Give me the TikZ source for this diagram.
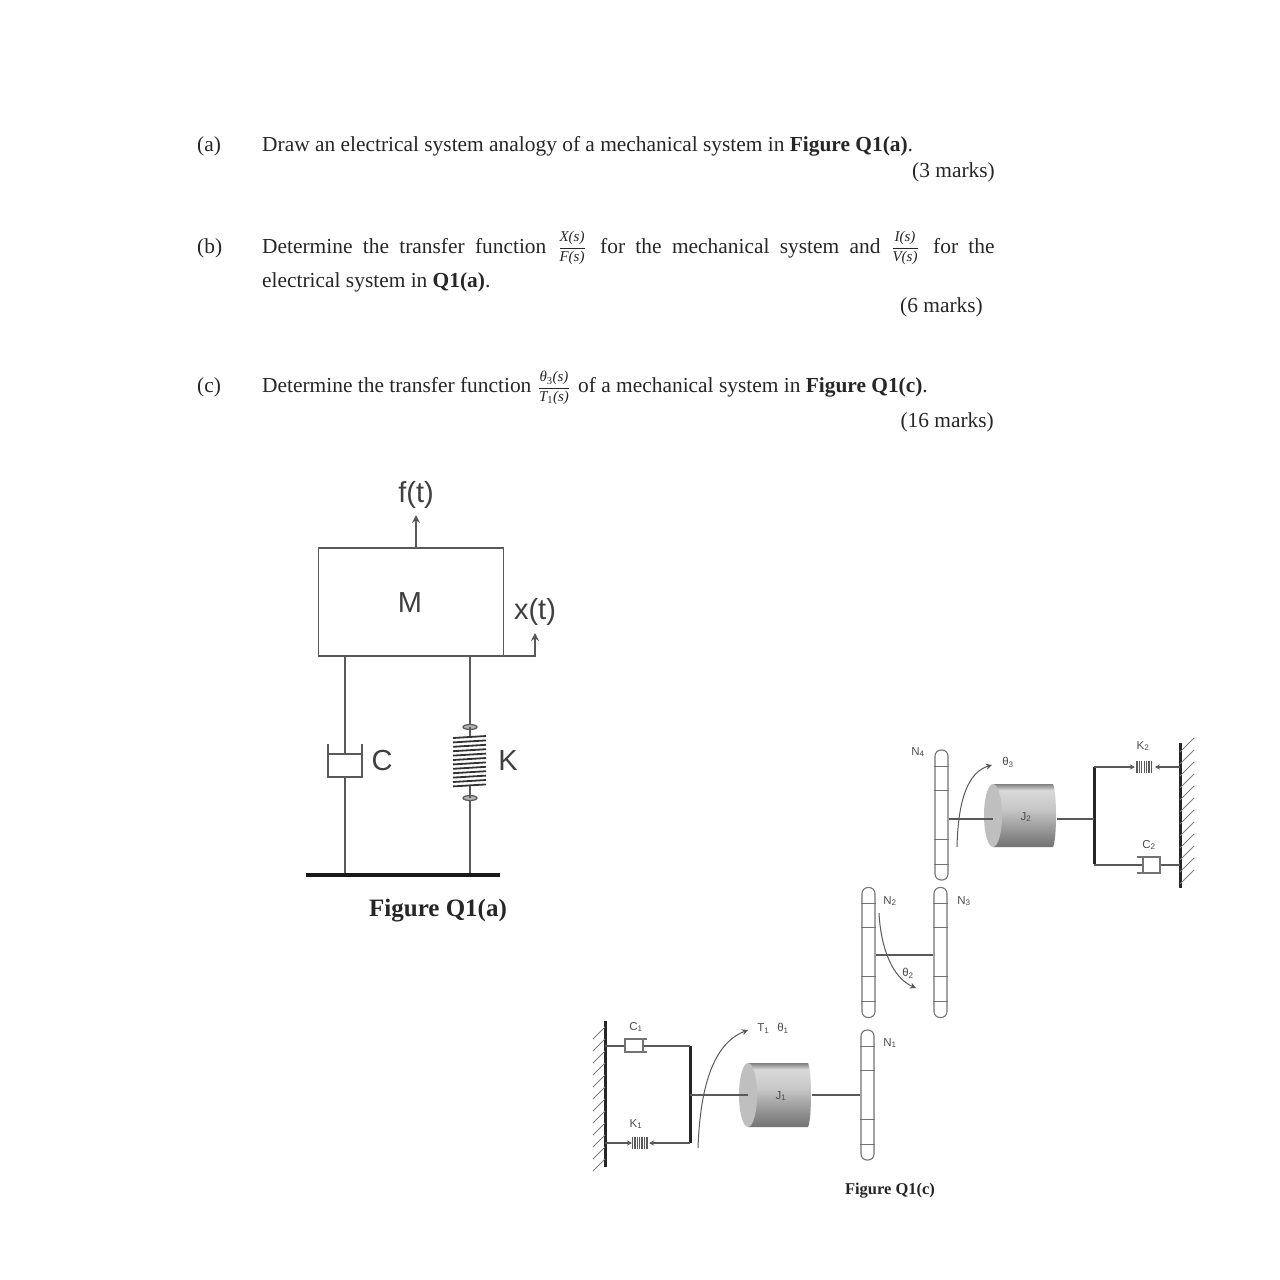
\documentclass[tikz,border=0pt]{standalone}
\usepackage{amsmath}
\usepackage{fontspec}
\usetikzlibrary{arrows.meta}
\setmainfont{Liberation Serif}
\newfontfamily\labelfont{Liberation Sans}
\pgfdeclareverticalshading{drumshade}{100bp}{color(0bp)=(black!55); color(25bp)=(black!55); color(35bp)=(black!45); color(55bp)=(black!22); color(70bp)=(black!15); color(75bp)=(black!50); color(100bp)=(black!50)}
\tikzset{
  txt/.style={inner sep=0pt,anchor=base west,font=\fontsize{21.4}{24}\selectfont,text=black!85},
  marks/.style={inner sep=0pt,anchor=base east,font=\fontsize{21.4}{24}\selectfont,text=black!85},
  fractxt/.style={inner sep=0pt,font=\fontsize{15}{17}\selectfont,text=black!85},
  biglabel/.style={inner sep=0pt,font=\labelfont\fontsize{29}{32}\selectfont,text=black!75},
  smalllabel/.style={inner sep=0pt,font=\labelfont\fontsize{11.5}{13}\selectfont,text=black!70},
  figlabel/.style={inner sep=0pt,font=\bfseries\fontsize{25}{28}\selectfont,text=black!85},
  gearbox/.style={draw=black!55,line width=1.1,rounded corners=6,minimum width=13,minimum height=130,inner sep=0pt},
  gearline/.style={draw=black!55,line width=1},
  rod/.style={draw=black!65,line width=1.2},
  arm/.style={draw=black!85,line width=3},
  wall/.style={draw=black!85,line width=3},
  hatch/.style={draw=black!50,line width=1},
  turn/.style={draw=black!65,line width=1,-{Stealth[length=6,width=6]}},
  bigtip/.style={-{Stealth[length=8,width=8]},line width=1.8},
  smalltip/.style={-{Stealth[length=5,width=5]}}
}
\newcommand{\gearwheel}[3]{
  \node[gearbox] (#1) at (#2,#3) {};
  \foreach \off in {-49,-24,25,49}
    \draw[gearline] ([yshift=\off pt]#1.west) -- ([yshift=\off pt]#1.east);
}
\newcommand{\drum}[5]{
  \shade[shading=drumshade] (#1,#3) -- (#2-4,#3) .. controls (#2,#3+8) and (#2,#4-8) .. (#2-4,#4) -- (#1,#4) -- cycle;
  \fill[black!25] (#1,#3/2+#4/2) ellipse [x radius=#5,y radius=#4/2-#3/2];
}
\newcommand{\coil}[2]{
  \foreach \k in {-8,-5.6,...,8.2}
    \draw[black!65,line width=1.3] (#1+\k,#2-6) -- (#1+\k,#2+6);
}
\begin{document}
\begin{tikzpicture}[x=1pt,y=-1pt]
  \useasboundingbox (0,0) rectangle (1280,1280);
  \fill[white] (0,0) rectangle (1280,1280);

  \node[txt] (parta) at (197,151) {(a)};
  \node[txt] (texta) at (262,151) {Draw an electrical system analogy of a mechanical system in \textbf{Figure Q1(a)}.};
  \node[marks] (marka) at (995,177) {(3 marks)};

  \node[txt] (partb) at (197,253) {(b)};
  \node[txt] (textbi) at (262,253) {Determine\hspace{5pt} the\hspace{5pt} transfer\hspace{5pt} function};
  \node[fractxt] (fracbi) at (572,248) {$\dfrac{\textit{X(s)}}{\textit{F(s)}}$};
  \node[txt] (textbii) at (600,253) {for\hspace{5pt} the\hspace{5pt} mechanical\hspace{5pt} system\hspace{5pt} and};
  \node[fractxt] (fracbii) at (905,248) {$\dfrac{\textit{I(s)}}{\textit{V(s)}}$};
  \node[txt] (textbiii) at (933,253) {for\hspace{5pt} the};
  \node[txt] (textbiv) at (262,287) {electrical system in \textbf{Q1(a)}.};
  \node[marks] (markb) at (983,312) {(6 marks)};

  \node[txt] (partc) at (197,392) {(c)};
  \node[txt] (textci) at (262,392) {Determine the transfer function};
  \node[fractxt] (fracc) at (554,388) {$\dfrac{\textit{θ}\textsubscript{3}\textit{(s)}}{\textit{T}\textsubscript{1}\textit{(s)}}$};
  \node[txt] (textcii) at (578,392) {of a mechanical system in \textbf{Figure Q1(c)}.};
  \node[marks] (markc) at (994,427) {(16 marks)};

  \node[draw=black!65,line width=1.3,minimum width=185,minimum height=108,inner sep=0pt] (mass) at (411,602) {};
  \node[biglabel] (massm) at (410,603) {M};
  \node[biglabel] (force) at (416,495) {f(t)};
  \node[biglabel] (disp) at (535,612) {x(t)};
  \node[biglabel] (dampc) at (382,761) {C};
  \node[biglabel] (springk) at (508,761) {K};
  \node[figlabel] (figa) at (438,911) {Figure Q1(a)};
  \coordinate (forcetip) at (416,515);
  \coordinate (disptip) at (535,633);
  \coordinate (dampa) at (345,754);
  \coordinate (dampb) at (345,777);
  \coordinate (grounda) at (345,875);
  \coordinate (springa) at (470,727);
  \coordinate (springb) at (470,798);
  \coordinate (groundb) at (470,875);

  \draw[rod,bigtip] (416,548) -- (forcetip);
  \draw[rod,bigtip] (503,656) -| (disptip);
  \draw[rod] (345,656) -- (dampa);
  \draw[rod] (dampb) -- (grounda);
  \draw[rod] (470,656) -- (springa);
  \draw[rod] (springb) -- (groundb);
  \draw[rod] (328,744) -- (328,777) -- (362,777) -- (362,744);
  \draw[rod] (328,754) -- (362,754);
  \draw[rod,fill=black!30] (springa) ellipse [x radius=7,y radius=2.5];
  \draw[rod,fill=black!30] (springb) ellipse [x radius=7,y radius=2.5];
  \draw[rod] (springa) -- (470,738);
  \draw[rod] (470,786) -- (springb);
  \foreach \s in {0,...,11}
    \draw[black!80,line width=1.8] (453,738+4.4*\s) -- (486,736+4.4*\s);
  \draw[black!90,line width=4] (306,875) -- (500,875);

  \gearwheel{gearone}{867.5}{1095}
  \gearwheel{geartwo}{868.5}{952.5}
  \gearwheel{gearthree}{940.5}{952.5}
  \gearwheel{gearfour}{941.5}{815}
  \node[smalllabel] (nonelabel) at (890,1043) {N\textsubscript{1}};
  \node[smalllabel] (ntwolabel) at (890,901) {N\textsubscript{2}};
  \node[smalllabel] (nthreelabel) at (964,901) {N\textsubscript{3}};
  \node[smalllabel] (nfourlabel) at (918,752) {N\textsubscript{4}};

  \draw[rod] (geartwo.east |- 0,955) -- (gearthree.west |- 0,955);
  \draw[turn] (879,913) .. controls (881,950) and (893,978) .. (916,988);
  \node[smalllabel] (thetatwo) at (908,973) {θ\textsubscript{2}};

  \draw[wall] (605,1021) -- (605,1167);
  \foreach \h in {0,...,11}
    \draw[hatch] (605,1027+12*\h) -- (593,1039+12*\h);
  \draw[arm] (690.5,1046) -- (690.5,1143);
  \draw[rod] (605,1046) -- (625,1046);
  \draw[rod] (643,1046) -- (690,1046);
  \draw[rod,fill=white,draw=black!55] (625,1039) rectangle (643,1052);
  \draw[rod,draw=black!55] (643,1039) -- (647,1039);
  \draw[rod,draw=black!55] (643,1052) -- (647,1052);
  \draw[rod,smalltip] (605,1143) -- (632,1143);
  \draw[rod,smalltip] (690,1143) -- (649,1143);
  \coil{640.5}{1143}
  \drum{748}{812}{1063}{1127}{9}
  \draw[rod] (690,1095) -- (748,1095);
  \draw[rod] (812,1095) -- (gearone.west |- 0,1095);
  \draw[turn] (698,1148) .. controls (700,1090) and (712,1044) .. (748,1030);
  \node[smalllabel] (cone) at (636,1027) {C\textsubscript{1}};
  \node[smalllabel] (kone) at (636,1124) {K\textsubscript{1}};
  \node[smalllabel] (jone) at (781,1096) {J\textsubscript{1}};
  \node[smalllabel] (tone) at (773,1028) {T\textsubscript{1}\hspace{8pt}θ\textsubscript{1}};

  \draw[wall] (1180,743) -- (1180,888);
  \foreach \h in {0,...,11}
    \draw[hatch] (1180,752+12*\h) -- (1194,738+12*\h);
  \draw[arm] (1094,767) -- (1094,864);
  \draw[rod,smalltip] (1094,767) -- (1135,767);
  \draw[rod,smalltip] (1180,767) -- (1155,767);
  \coil{1145}{767}
  \draw[rod] (1094,865) -- (1143,865);
  \draw[rod] (1160,865) -- (1180,865);
  \draw[rod,fill=white,draw=black!55] (1143,857) rectangle (1160,873);
  \draw[rod,draw=black!55] (1137,857) -- (1143,857);
  \draw[rod,draw=black!55] (1137,873) -- (1143,873);
  \drum{993}{1057}{784}{847}{9}
  \draw[rod] (gearfour.east |- 0,819) -- (993,819);
  \draw[rod] (1057,819) -- (1094,819);
  \draw[turn] (957,847) .. controls (958,800) and (968,772) .. (992,765);
  \node[smalllabel] (ktwo) at (1143,746) {K\textsubscript{2}};
  \node[smalllabel] (ctwo) at (1149,845) {C\textsubscript{2}};
  \node[smalllabel] (jtwo) at (1026,817) {J\textsubscript{2}};
  \node[smalllabel] (thetathree) at (1008,762) {θ\textsubscript{3}};
  \node[figlabel,font=\bfseries\fontsize{16.5}{18}\selectfont] (figc) at (890,1191) {Figure Q1(c)};
\end{tikzpicture}
\end{document}
